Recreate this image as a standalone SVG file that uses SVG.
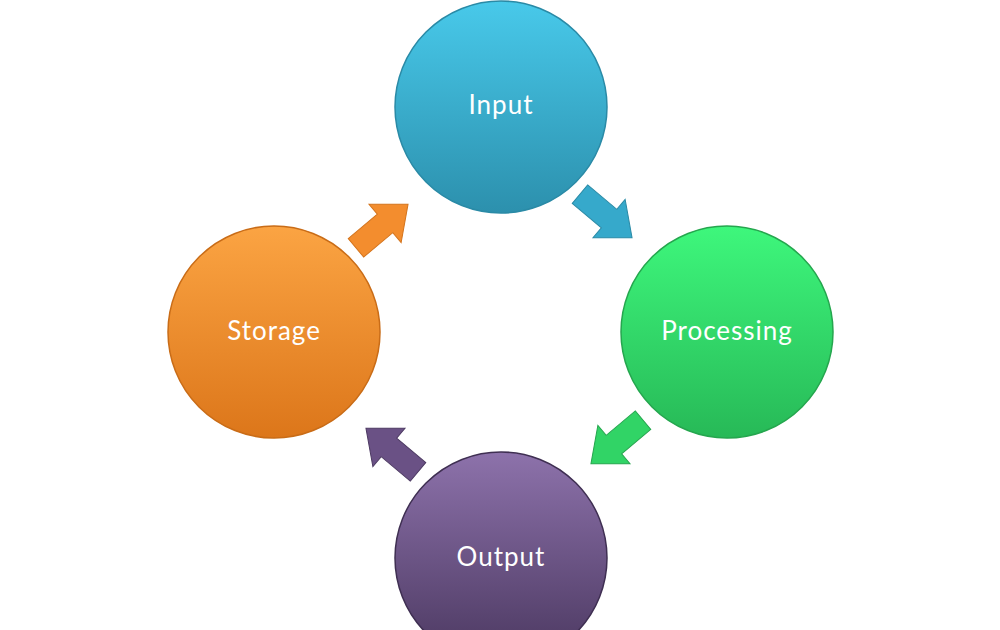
<svg xmlns="http://www.w3.org/2000/svg" width="1000" height="630" viewBox="0 0 1000 630">
<defs>
<linearGradient id="gb" x1="0" y1="0" x2="0" y2="1"><stop offset="0" stop-color="#48c9ea"/><stop offset="1" stop-color="#2c90ad"/></linearGradient>
<linearGradient id="gg" x1="0" y1="0" x2="0" y2="1"><stop offset="0" stop-color="#3ef77c"/><stop offset="1" stop-color="#27b957"/></linearGradient>
<linearGradient id="gp" x1="0" y1="0" x2="0" y2="1"><stop offset="0" stop-color="#8d72ab"/><stop offset="1" stop-color="#4a375f"/></linearGradient>
<linearGradient id="go" x1="0" y1="0" x2="0" y2="1"><stop offset="0" stop-color="#fba443"/><stop offset="1" stop-color="#dc761a"/></linearGradient>
<path id="arr" d="M-34,-12 L4,-12 L4,-25 L34,0 L4,25 L4,12 L-34,12 Z"/>
</defs>
<style>
circle{stroke-width:1.5}
text{font-family:Lato,"Open Sans",sans-serif;font-size:26px;fill:#fff;text-anchor:middle;letter-spacing:1px}
</style>
<rect width="1000" height="630" fill="#fff"/>
<g id="connectors">
<use href="#arr" fill="#36a9cb" stroke="#2a8aa6" transform="translate(606,216) rotate(40)"/>
<use href="#arr" fill="#31d466" stroke="#25a64e" transform="translate(617,442) rotate(140)"/>
<use href="#arr" fill="#6a5185" stroke="#4d3a63" transform="translate(392,450) rotate(-140)"/>
<use href="#arr" fill="#f38d2e" stroke="#d4741c" transform="translate(382,226) rotate(-40)"/>
</g>
<g id="input"><circle cx="501" cy="107" r="106" fill="url(#gb)" stroke="#2a8aa6"/><text x="501" y="114">Input</text></g>
<g id="processing"><circle cx="727" cy="332" r="106" fill="url(#gg)" stroke="#25a64e"/><text x="727" y="340">Processing</text></g>
<g id="output"><circle cx="501" cy="558" r="106" fill="url(#gp)" stroke="#3f2f52"/><text x="501" y="566">Output</text></g>
<g id="storage"><circle cx="274" cy="332" r="106" fill="url(#go)" stroke="#c96c17"/><text x="274" y="340">Storage</text></g>
</svg>
